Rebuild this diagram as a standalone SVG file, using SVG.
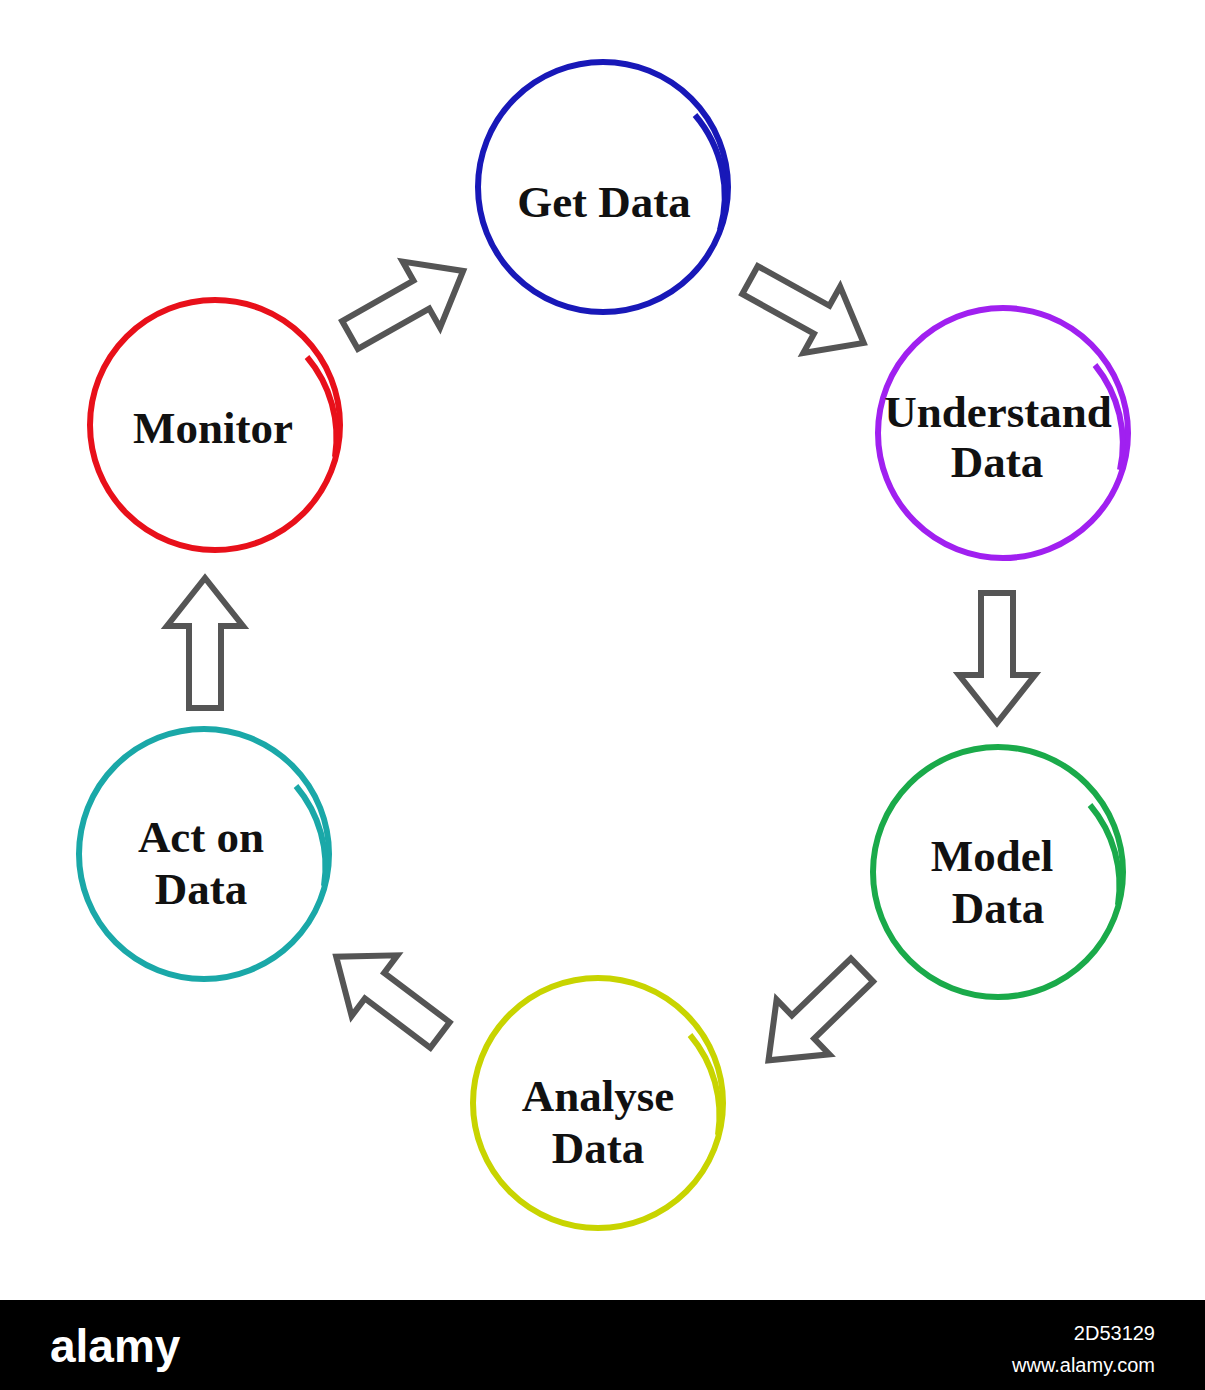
<svg xmlns="http://www.w3.org/2000/svg" width="1205" height="1390" viewBox="0 0 1205 1390">
<style>
.c{fill:none;stroke-width:6}
.t{font-family:"Liberation Serif",serif;font-weight:bold;font-size:45px;text-anchor:middle;fill:#111}
.a{fill:#fff;stroke:#555;stroke-width:6;stroke-linejoin:miter}
</style>
<defs><path id="ar" d="M0,-16 L82,-16 L82,-38 L130,0 L82,38 L82,16 L0,16 Z"/></defs>
<rect width="1205" height="1390" fill="#fff"/>
<g id="get"><circle class="c" cx="603" cy="187" r="125" stroke="#1818b8"/><path class="c" d="M695,115 A125,125 0 0 1 720,230" stroke="#1818b8" stroke-width="9"/><text class="t" x="604" y="217">Get Data</text></g>
<g id="understand"><circle class="c" cx="1003" cy="433" r="125" stroke="#a020f0"/><path class="c" d="M1095,365 A125,125 0 0 1 1120,470" stroke="#a020f0" stroke-width="9"/><text class="t" x="998" y="427">Understand</text><text class="t" x="997" y="477">Data</text></g>
<g id="model"><circle class="c" cx="998" cy="872" r="125" stroke="#1aaa4a"/><path class="c" d="M1090,805 A125,125 0 0 1 1118,905" stroke="#1aaa4a" stroke-width="9"/><text class="t" x="992" y="871">Model</text><text class="t" x="998" y="923">Data</text></g>
<g id="analyse"><circle class="c" cx="598" cy="1103" r="125" stroke="#c8d400"/><path class="c" d="M690,1035 A125,125 0 0 1 718,1135" stroke="#c8d400" stroke-width="9"/><text class="t" x="598" y="1111">Analyse</text><text class="t" x="598" y="1163">Data</text></g>
<g id="act"><circle class="c" cx="204" cy="854" r="125" stroke="#1aa8a8"/><path class="c" d="M296,786 A125,125 0 0 1 324,886" stroke="#1aa8a8" stroke-width="9"/><text class="t" x="201" y="852">Act on</text><text class="t" x="201" y="904">Data</text></g>
<g id="monitor"><circle class="c" cx="215" cy="425" r="125" stroke="#e8101a"/><path class="c" d="M307,357 A125,125 0 0 1 335,457" stroke="#e8101a" stroke-width="9"/><text class="t" x="213" y="443">Monitor</text></g>
<g id="connectors">
<use href="#ar" class="a" transform="translate(350,335) rotate(-29.5)"/>
<use href="#ar" class="a" transform="translate(750,280) rotate(29)"/>
<use href="#ar" class="a" transform="translate(997,593) rotate(90)"/>
<use href="#ar" class="a" transform="translate(862,970) rotate(136)"/>
<use href="#ar" class="a" transform="translate(440,1035) rotate(217)"/>
<use href="#ar" class="a" transform="translate(205,708) rotate(-90)"/>
</g>
<rect x="0" y="1300" width="1205" height="90" fill="#000"/>
<text x="50" y="1362" font-family="Liberation Sans,sans-serif" font-weight="bold" font-size="46" fill="#fff">alamy</text>
<text x="1155" y="1340" font-family="Liberation Sans,sans-serif" font-size="20" fill="#fff" text-anchor="end">2D53129</text>
<text x="1155" y="1372" font-family="Liberation Sans,sans-serif" font-size="20" fill="#fff" text-anchor="end">www.alamy.com</text>
</svg>
